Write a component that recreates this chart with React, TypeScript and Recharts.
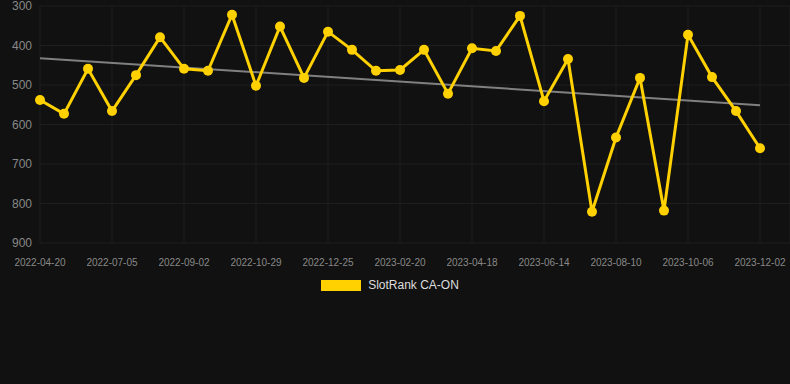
import {
  CartesianGrid,
  Legend,
  Line,
  LineChart,
  ReferenceLine,
  XAxis,
  YAxis,
} from 'recharts';

const dates = [
  '2022-04-20', '2022-05-15', '2022-06-10', '2022-07-05', '2022-07-24', '2022-08-13',
  '2022-09-02', '2022-09-21', '2022-10-10', '2022-10-29', '2022-11-17', '2022-12-06',
  '2022-12-25', '2023-01-13', '2023-02-01', '2023-02-20', '2023-03-11', '2023-03-30',
  '2023-04-18', '2023-05-07', '2023-05-26', '2023-06-14', '2023-07-03', '2023-07-22',
  '2023-08-10', '2023-08-29', '2023-09-17', '2023-10-06', '2023-10-25', '2023-11-13',
  '2023-12-02',
];

const ranks = [
  538, 573, 459, 566, 475, 379, 459, 464, 322, 502, 352, 482, 365, 411, 464, 462,
  411, 522, 407, 414, 325, 541, 434, 821, 633, 482, 818, 373, 480, 566, 660,
];

const yTicks = [300, 400, 500, 600, 700, 800, 900];

// trend line end points
const trendStart = 432;
const trendEnd = 551;

const seriesName = 'SlotRank CA-ON';
const yellow = '#FFD100';
const font = '"Liberation Sans", Arial, sans-serif';

const rows = dates.map((date, i) => ({ date, rank: ranks[i] }));

function LegendBox() {
  return (
    <div
      style={{
        display: 'flex',
        justifyContent: 'center',
        alignItems: 'center',
        paddingTop: 8,
        marginLeft: -10,
        fontFamily: font,
        fontSize: 12,
        color: '#dddddd',
      }}
    >
      <span style={{ width: 40, height: 11, background: yellow, marginRight: 7 }} />
      {seriesName}
    </div>
  );
}

export default function App() {
  return (
    <div style={{ width: 790, height: 384, background: '#111111', fontFamily: font }}>
      <style>{'body{margin:0;background:#111111}'}</style>
      <LineChart width={790} height={300} data={rows} margin={{ top: 6, right: 0, left: 0, bottom: 0 }}>
        <CartesianGrid stroke="#1f1f1f" strokeWidth={1} />
        <XAxis
          dataKey="date"
          interval={2}
          padding={{ left: 0, right: 30 }}
          tickLine={false}
          axisLine={false}
          tickMargin={10}
          height={27}
          tick={{ fill: '#888888', fontSize: 10 }}
        />
        <YAxis
          reversed
          domain={[300, 900]}
          ticks={yTicks}
          interval={0}
          width={40}
          tickLine={false}
          axisLine={false}
          tick={{ fill: '#888888', fontSize: 12 }}
        />
        <ReferenceLine
          segment={[
            { x: dates[0], y: trendStart },
            { x: dates[dates.length - 1], y: trendEnd },
          ]}
          stroke="#808080"
          strokeWidth={2}
          ifOverflow="visible"
        />
        <Line
          type="linear"
          dataKey="rank"
          name={seriesName}
          stroke={yellow}
          strokeWidth={3}
          dot={{ r: 5, fill: yellow, stroke: yellow, strokeWidth: 0 }}
          activeDot={false}
          isAnimationActive={false}
        />
        <Legend verticalAlign="bottom" height={30} content={() => <LegendBox />} />
      </LineChart>
    </div>
  );
}
